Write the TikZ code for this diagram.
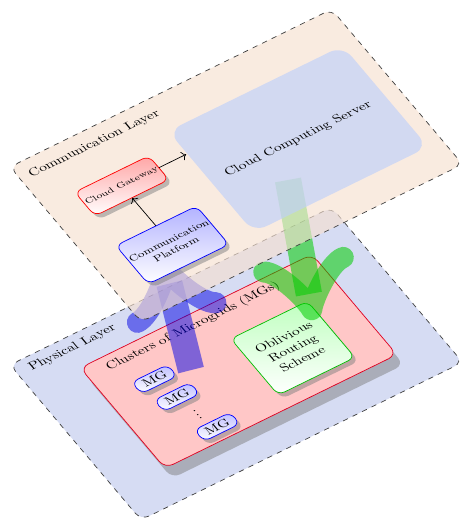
\documentclass[tikz,border=0pt]{standalone}
\usetikzlibrary{shadows,arrows.meta}
\definecolor{physfill}{RGB}{214,220,243}
\definecolor{commfill}{RGB}{246,224,208}
\definecolor{serverfill}{RGB}{190,208,250}
\tikzset{
  layer/.style={draw=black!75, dashed, rounded corners=5pt, minimum width=8.52cm, minimum height=5.93cm, inner sep=0pt},
  box/.style={rounded corners=4pt, thin, align=center, inner sep=1pt, drop shadow},
  mg/.style={box, draw=blue, top color=blue!25, bottom color=white, minimum width=0.95cm, minimum height=0.44cm},
  flow/.style={line width=15pt, -{Classical TikZ Rightarrow[length=38pt,width=58pt]}, opacity=0.5}
}
\begin{document}
\begin{tikzpicture}
\useasboundingbox (0,0) rectangle (9.48,10.6);

% physical layer
\begin{scope}[cm={0.755,0.37,-0.442,0.523,(2.82,0.2)}, transform shape]
  \node[layer, fill=physfill] (phys) at (4.26,2.965) {};
  \node[anchor=base west] (physlabel) at (0.19,5.48) {Physical Layer};
  \node[rounded corners=5pt, draw=purple!50!red, fill=red!22, minimum width=6.14cm, minimum height=3.84cm,
        drop shadow={shadow xshift=1.4mm, shadow yshift=-2mm}] (clusters) at (4.34,3.0) {};
  \node[anchor=base west] (clusterlabel) at (1.65,4.46) {Clusters of Microgrids (MGs)};
  \node[mg] (mg1) at (2.48,3.63) {MG};
  \node[mg] (mg2) at (2.62,2.85) {MG};
  \node (dots) at (2.73,2.2) {$\vdots$};
  \node[mg] (mg3) at (2.90,1.51) {MG};
  \node[box, draw=green!75!black, top color=green!25, bottom color=white, minimum width=2.03cm, minimum height=2.15cm] (routing) at (5.565,2.635) {Oblivious\\Routing\\Scheme};
  % flow ends on this layer
  \coordinate (upstart) at (3.31,3.39);
  \coordinate (downend) at (6.4,3.12);
\end{scope}

% flows between the layers
\coordinate (upend) at (3.26,5.44);
\coordinate (downstart) at (5.76,7.0);
\draw[flow, blue!90!black] (upstart) -- (upend);
\draw[flow, green!80!black, opacity=0.55] (downstart) -- (downend);

% communication layer
\begin{scope}[cm={0.755,0.37,-0.442,0.523,(2.82,4.16)}, transform shape]
  \node[layer, fill=commfill, fill opacity=0.65] (comm) at (4.26,2.965) {};
  \node[anchor=base west] (commlabel) at (0.12,5.35) {Communication Layer};
  \node[rounded corners=8pt, fill=serverfill, fill opacity=0.65, text opacity=1, minimum width=4.62cm, minimum height=3.87cm] (server) at (5.84,2.865) {Cloud Computing Server};
  \node[box, draw=red, top color=red!35, bottom color=white, minimum width=1.89cm, minimum height=0.91cm, font=\scriptsize] (gateway) at (1.795,3.935) {Cloud Gateway};
  \node[box, draw=blue, top color=blue!30, bottom color=white, minimum width=1.93cm, minimum height=1.47cm, font=\footnotesize] (platform) at (1.805,1.665) {Communication\\Platform};
  \coordinate (serverin) at (3.5,3.935);
  \draw[->] (platform) -- (gateway);
  \draw[->] (gateway) -- (serverin);
\end{scope}

\end{tikzpicture}
\end{document}
